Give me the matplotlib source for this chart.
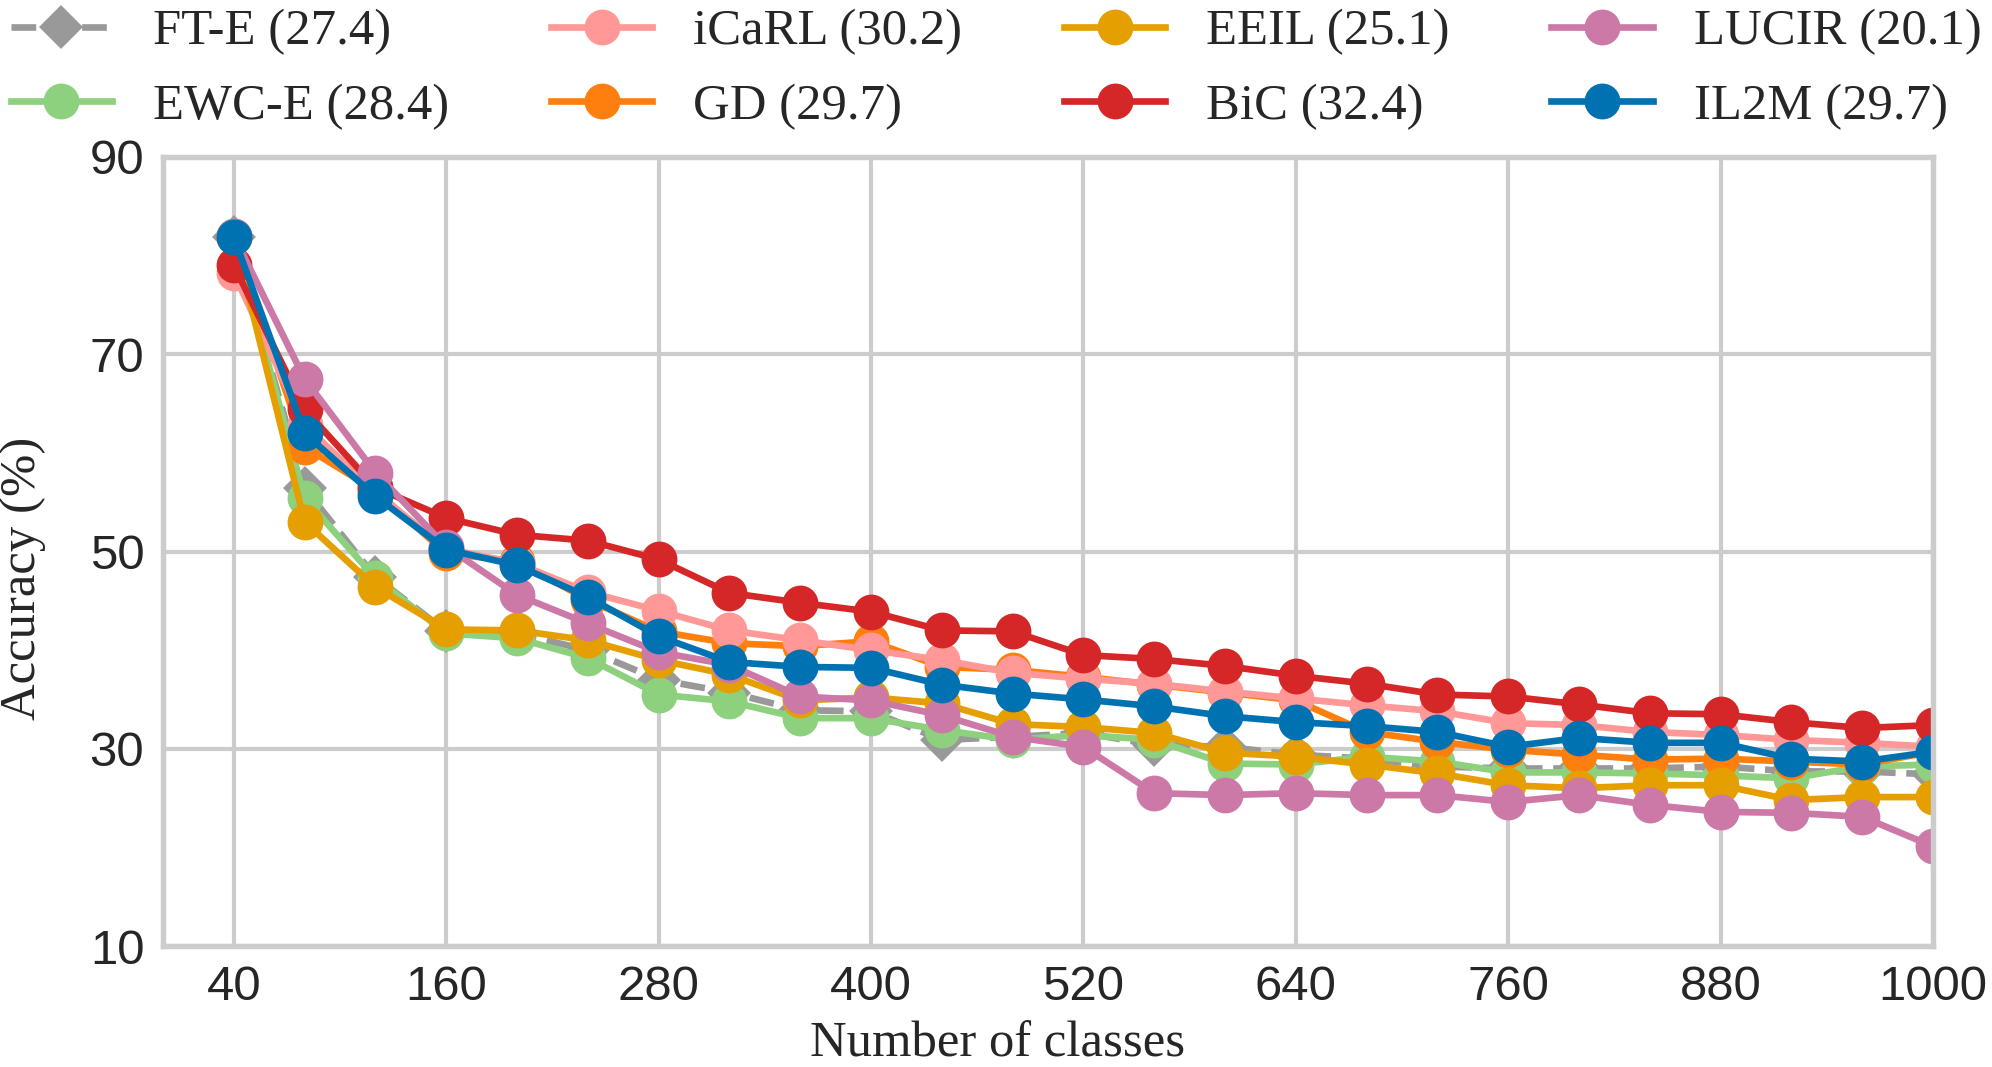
import matplotlib
matplotlib.use('Agg')
import matplotlib.pyplot as plt

# number of classes seen so far (25 tasks of 40 classes)
classes = list(range(40, 1001, 40))

ft_e = [81.9, 56.4, 47.4, 41.9, 41.7, 40.0, 37.0, 35.7, 33.9, 33.8, 30.9, 31.2, 31.6,
        30.4, 30.2, 29.4, 29.0, 28.2, 28.0, 28.0, 28.0, 28.2, 27.7, 27.7, 27.4]
ewc_e = [82.0, 55.4, 47.3, 41.7, 41.2, 39.2, 35.5, 34.8, 33.1, 33.1, 31.9, 30.9, 31.4,
         30.9, 28.5, 28.4, 29.2, 28.7, 27.6, 27.6, 27.5, 27.3, 27.0, 28.2, 28.4]
icarl = [78.2, 62.8, 56.0, 50.3, 48.8, 45.9, 44.0, 42.0, 41.0, 40.0, 39.0, 37.7, 37.1,
         36.6, 35.8, 35.1, 34.4, 33.8, 32.6, 32.4, 31.7, 31.4, 30.9, 30.6, 30.2]
gd = [81.9, 60.6, 56.2, 49.8, 49.0, 45.1, 41.9, 40.7, 40.4, 40.9, 38.3, 38.0, 37.3,
      36.5, 35.7, 34.9, 31.7, 30.7, 29.9, 29.4, 28.9, 29.0, 28.7, 28.4, 29.7]
eeil = [81.9, 53.0, 46.4, 42.1, 42.0, 41.0, 39.0, 37.5, 34.9, 35.2, 34.6, 32.5, 32.2,
        31.6, 29.6, 29.2, 28.4, 27.5, 26.3, 26.0, 26.3, 26.3, 24.8, 25.1, 25.1]
bic = [79.0, 64.4, 56.5, 53.4, 51.7, 51.1, 49.2, 45.8, 44.8, 43.9, 42.0, 41.9, 39.5,
       39.1, 38.4, 37.4, 36.6, 35.5, 35.3, 34.5, 33.6, 33.5, 32.7, 32.1, 32.4]
lucir = [82.0, 67.5, 58.0, 50.5, 45.6, 42.7, 39.8, 38.5, 35.3, 34.9, 33.4, 31.2, 30.2,
         25.5, 25.3, 25.5, 25.3, 25.3, 24.6, 25.3, 24.3, 23.6, 23.5, 23.1, 20.1]
il2m = [81.9, 62.0, 55.6, 50.2, 48.6, 45.4, 41.4, 38.8, 38.3, 38.2, 36.5, 35.6, 35.0,
        34.3, 33.3, 32.7, 32.3, 31.7, 30.2, 31.1, 30.6, 30.6, 29.0, 28.7, 29.7]

labels = ['FT-E (27.4)', 'EWC-E (28.4)', 'iCaRL (30.2)', 'GD (29.7)',
          'EEIL (25.1)', 'BiC (32.4)', 'LUCIR (20.1)', 'IL2M (29.7)']
y_ticks = [10, 30, 50, 70, 90]
x_ticks = [40, 160, 280, 400, 520, 640, 760, 880, 1000]

serif = ['Liberation Serif', 'DejaVu Serif']
sans = ['Liberation Sans', 'DejaVu Sans']

fig = plt.figure(figsize=(1992 / 300, 1067 / 300), dpi=300)
ax = fig.add_axes([163 / 1992, 1 - 946 / 1067, 1770 / 1992, 789 / 1067])

LW = 1.6
MS = 7.6
lines = {}
lines['FT-E'], = ax.plot(classes, ft_e, color='#999999', ls='--', marker='D', ms=6.4, lw=LW)
lines['EWC-E'], = ax.plot(classes, ewc_e, color='#8dd17e', marker='o', ms=MS, lw=LW)
lines['GD'], = ax.plot(classes, gd, color='#ff7f0e', marker='o', ms=MS, lw=LW)
lines['iCaRL'], = ax.plot(classes, icarl, color='#ff9896', marker='o', ms=MS, lw=LW)
lines['EEIL'], = ax.plot(classes, eeil, color='#e69f00', marker='o', ms=MS, lw=LW)
lines['BiC'], = ax.plot(classes, bic, color='#d62728', marker='o', ms=MS, lw=LW)
lines['LUCIR'], = ax.plot(classes, lucir, color='#cc79a7', marker='o', ms=MS, lw=LW)
lines['IL2M'], = ax.plot(classes, il2m, color='#0072b2', marker='o', ms=MS, lw=LW)

ax.set_xlim(0, 1000)
ax.set_ylim(10, 90)
ax.set_xticks(x_ticks)
ax.set_yticks(y_ticks)
ax.grid(True, color='#cccccc', lw=1.0)
ax.set_axisbelow(True)
for s in ax.spines.values():
    s.set_color('#cccccc')
    s.set_linewidth(1.3)
ax.tick_params(length=0, pad=4.5, labelsize=11.8, labelcolor='#262626')
for t in ax.get_xticklabels() + ax.get_yticklabels():
    t.set_family(sans)

fig.text(998 / 1992, 1 - 1021 / 1067, 'Number of classes', ha='center', va='top',
         fontsize=12.2, family=serif, color='#262626')
fig.text(23 / 1992, 1 - 578 / 1067, 'Accuracy (%)', ha='center', va='center',
         rotation=90, fontsize=12.2, family=serif, color='#262626')

order = ['FT-E', 'EWC-E', 'iCaRL', 'GD', 'EEIL', 'BiC', 'LUCIR', 'IL2M']
fig.legend([lines[k] for k in order], labels, loc='upper center',
           bbox_to_anchor=(0.5, 1.0155), ncol=4, frameon=False,
           prop={'family': serif, 'size': 12.2}, labelcolor='#262626',
           columnspacing=2.0, handlelength=2.0, labelspacing=0.55, borderaxespad=0.1)

fig.savefig('out.png', dpi=300)
